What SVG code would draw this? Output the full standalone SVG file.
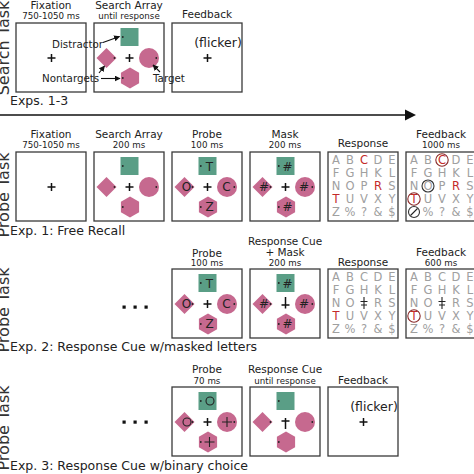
<svg xmlns="http://www.w3.org/2000/svg" width="474" height="474" viewBox="0 0 474 474">
<style>
text{font-family:"DejaVu Sans","Liberation Sans",sans-serif;fill:#222}
.title{font-size:10.5px;text-anchor:middle}
.sub{font-size:8.7px;text-anchor:middle}
.side{font-size:16px;text-anchor:middle;fill:#333}
.exp{font-size:12.5px}
.lbl{font-size:10.3px}
.box{fill:#fff;stroke:#3a3a3a;stroke-width:1.3}
.sq{fill:#5a9e86}
.pk{fill:#c6698f}
.dot{fill:#222}
.stim{font-size:12px;text-anchor:middle;fill:#222}
.grid{font-size:11.5px;text-anchor:middle;fill:#a0a0a0}
.red{fill:#c42a2a}
.x{stroke:#111;stroke-width:1.5;fill:none}
.thin{stroke:#222;stroke-width:1.1;fill:none}
.ring{fill:none;stroke:#333;stroke-width:1.1}
.rring{fill:none;stroke:#8a2a2a;stroke-width:1.1}
.arr{stroke:#111;stroke-width:1.1;fill:none;marker-end:url(#ah)}
.flk{font-size:12.5px;text-anchor:middle}
.ell{fill:#111}
</style>
<defs>
<marker id="ah" viewBox="0 0 10 10" refX="9" refY="5" markerWidth="6" markerHeight="6" orient="auto" markerUnits="userSpaceOnUse">
<path d="M0,0 L10,5 L0,10 z" fill="#111"/>
</marker>
<g id="shapes">
<rect class="sq" x="26.5" y="5" width="18" height="18"/>
<polygon class="pk" points="12.5,25 22.5,35 12.5,45 2.5,35"/>
<circle class="pk" cx="55" cy="35" r="10"/>
<polygon class="pk" points="36,44.5 45.1,49.75 45.1,60.25 36,65.5 26.9,60.25 26.9,49.75"/>
<circle class="dot" cx="28.8" cy="14" r="0.9"/>
<circle class="dot" cx="20.5" cy="35" r="0.9"/>
<circle class="dot" cx="62.3" cy="35" r="0.9"/>
<circle class="dot" cx="28.8" cy="55" r="0.9"/>
</g>
<path id="cross" class="x" d="M35.5,31 V39 M31.5,35 H39.5"/>
<path id="cueUp" class="x" d="M35.5,28 V39.5 M31.5,36 H39.5"/>
<path id="cueDown" class="x" d="M35.5,31 V42 M31.5,34 H39.5"/>
<rect id="frame" class="box" x="0" y="0" width="70" height="69"/>
<g id="gridRows">
<text class="grid" x="8 22 36 50 64" y="25">FGHKL</text>
<text class="grid" x="22 36 50 64" y="51">UVXY</text>
<text class="grid" x="22 36 50 64" y="64">%?&amp;$</text>
</g>
</defs>

<!-- side labels -->
<text class="side" transform="translate(8.5,48) rotate(-90)">Search Task</text>
<text class="side" transform="translate(8.5,195) rotate(-90)">Probe Task</text>
<text class="side" transform="translate(8.5,310) rotate(-90)">Probe Task</text>
<text class="side" transform="translate(8.5,428) rotate(-90)">Probe Task</text>

<!-- ROW 1: search task -->
<g id="s-fixation">
<text class="title" x="51" y="9">Fixation</text>
<text class="sub" x="51" y="19">750-1050 ms</text>
<g transform="translate(16,23)"><use href="#frame"/><use href="#cross"/></g>
</g>
<g id="s-search">
<text class="title" x="129" y="9">Search Array</text>
<text class="sub" x="129" y="19">until response</text>
<g transform="translate(94,23)"><use href="#frame"/><use href="#shapes"/><use href="#cross"/></g>
</g>
<g id="s-feedback">
<text class="title" x="207" y="18">Feedback</text>
<g transform="translate(172,23)"><use href="#frame"/><text class="flk" x="46" y="24">(flicker)</text><use href="#cross"/></g>
</g>
<g id="s-labels">
<text class="lbl" x="52" y="47.5">Distractor</text>
<text class="lbl" x="42" y="82">Nontargets</text>
<text class="lbl" x="153" y="82">Target</text>
</g>
<g id="connectors">
<line class="arr" x1="103" y1="42.5" x2="119.5" y2="36.5"/>
<line class="arr" x1="99" y1="73" x2="104.5" y2="66"/>
<line class="arr" x1="101" y1="78.5" x2="120" y2="78.5"/>
<line class="arr" x1="160" y1="72" x2="153" y2="65"/>
<line x1="0" y1="115" x2="406" y2="115" stroke="#111" stroke-width="1.5"/>
<polygon points="405,109.5 416,115 405,120.5" fill="#111"/>
</g>
<text class="exp" x="10" y="105">Exps. 1-3</text>

<!-- ROW 2: Exp 1 -->
<g id="e1-fixation">
<text class="title" x="51" y="138">Fixation</text>
<text class="sub" x="51" y="148">750-1050 ms</text>
<g transform="translate(16,152)"><use href="#frame"/><use href="#cross"/></g>
</g>
<g id="e1-search">
<text class="title" x="129" y="138">Search Array</text>
<text class="sub" x="129" y="148">200 ms</text>
<g transform="translate(94,152)"><use href="#frame"/><use href="#shapes"/><use href="#cross"/></g>
</g>
<g id="e1-probe">
<text class="title" x="207" y="138">Probe</text>
<text class="sub" x="207" y="148">100 ms</text>
<g transform="translate(172,152)"><use href="#frame"/><use href="#shapes"/><use href="#cross"/>
<text class="stim" x="37.5" y="18.5">T</text><text class="stim" x="14.5" y="39.3">O</text><text class="stim" x="54.5" y="39.3">C</text><text class="stim" x="37.5" y="59.3">Z</text></g>
</g>
<g id="e1-mask">
<text class="title" x="285" y="138">Mask</text>
<text class="sub" x="285" y="148">200 ms</text>
<g transform="translate(250,152)"><use href="#frame"/><use href="#shapes"/><use href="#cross"/>
<text class="stim" x="37.5" y="18.5">#</text><text class="stim" x="14" y="39.3">#</text><text class="stim" x="54" y="39.3">#</text><text class="stim" x="37.5" y="59.3">#</text></g>
</g>
<g id="e1-response">
<text class="title" x="363" y="147">Response</text>
<g transform="translate(328,152)"><use href="#frame"/>
<text class="grid" x="8 22" y="12">AB</text><text class="grid red" x="36" y="12">C</text><text class="grid" x="50 64" y="12">DE</text>
<text class="grid" x="8 22 36" y="38">NOP</text><text class="grid red" x="50" y="38">R</text><text class="grid" x="64" y="38">S</text>
<text class="grid red" x="8" y="51">T</text>
<text class="grid" x="8" y="64">Z</text>
<use href="#gridRows"/>
</g>
</g>
<g id="e1-feedback">
<text class="title" x="441" y="138">Feedback</text>
<text class="sub" x="441" y="148">1000 ms</text>
<g transform="translate(406,152)"><use href="#frame"/>
<text class="grid" x="8 22" y="12">AB</text><text class="grid red" x="36" y="12">C</text><text class="grid" x="50 64" y="12">DE</text>
<text class="grid" x="8 22 36" y="38">NOP</text><text class="grid red" x="50" y="38">R</text><text class="grid" x="64" y="38">S</text>
<text class="grid red" x="8" y="51">T</text>
<use href="#gridRows"/>
<circle class="rring" cx="36" cy="8" r="6.2"/>
<circle class="ring" cx="22" cy="34" r="6"/>
<circle class="rring" cx="8" cy="47" r="6.2"/>
<circle class="ring" cx="8" cy="60" r="5.5"/>
<line class="thin" x1="4.5" y1="63.5" x2="11.5" y2="56.5"/>
</g>
</g>
<text class="exp" x="10" y="235">Exp. 1: Free Recall</text>

<!-- ROW 3: Exp 2 -->
<g id="e2-ellipsis">
<rect class="ell" x="122.5" y="305.5" width="3.2" height="3.2"/>
<rect class="ell" x="133.5" y="305.5" width="3.2" height="3.2"/>
<rect class="ell" x="144.5" y="305.5" width="3.2" height="3.2"/>
</g>
<g id="e2-probe">
<text class="title" x="207" y="257">Probe</text>
<text class="sub" x="207" y="266">100 ms</text>
<g transform="translate(172,269)"><use href="#frame"/><use href="#shapes"/><use href="#cross"/>
<text class="stim" x="37.5" y="18.5">T</text><text class="stim" x="14.5" y="39.3">O</text><text class="stim" x="54.5" y="39.3">C</text><text class="stim" x="37.5" y="59.3">Z</text></g>
</g>
<g id="e2-cue">
<text class="title" x="285" y="245">Response Cue</text>
<text class="title" x="285" y="256">+ Mask</text>
<text class="sub" x="285" y="266">200 ms</text>
<g transform="translate(250,269)"><use href="#frame"/><use href="#shapes"/><use href="#cueUp"/>
<text class="stim" x="37.5" y="18.5">#</text><text class="stim" x="14" y="39.3">#</text><text class="stim" x="54" y="39.3">#</text><text class="stim" x="37.5" y="59.3">#</text></g>
</g>
<g id="e2-response">
<text class="title" x="363" y="266">Response</text>
<g transform="translate(328,269)"><use href="#frame"/>
<text class="grid" x="8 22 36 50 64" y="12">ABCDE</text>
<text class="grid" x="8 22" y="38">NO</text><text class="grid" x="50 64" y="38">RS</text>
<path class="thin" d="M36,28 V40 M32.5,32.5 H39.5 M33,36 H39"/>
<text class="grid red" x="8" y="51">T</text>
<text class="grid" x="8" y="64">Z</text>
<use href="#gridRows"/>
</g>
</g>
<g id="e2-feedback">
<text class="title" x="441" y="256">Feedback</text>
<text class="sub" x="441" y="266">600 ms</text>
<g transform="translate(406,269)"><use href="#frame"/>
<text class="grid" x="8 22 36 50 64" y="12">ABCDE</text>
<text class="grid" x="8 22" y="38">NO</text><text class="grid" x="50 64" y="38">RS</text>
<path class="thin" d="M36,28 V40 M32.5,32.5 H39.5 M33,36 H39"/>
<text class="grid red" x="8" y="51">T</text>
<text class="grid" x="8" y="64">Z</text>
<use href="#gridRows"/>
<circle class="rring" cx="8" cy="47" r="6.2"/>
</g>
</g>
<text class="exp" x="10" y="351">Exp. 2: Response Cue w/masked letters</text>

<!-- ROW 4: Exp 3 -->
<g id="e3-ellipsis">
<rect class="ell" x="122.5" y="420.5" width="3.2" height="3.2"/>
<rect class="ell" x="133.5" y="420.5" width="3.2" height="3.2"/>
<rect class="ell" x="144.5" y="420.5" width="3.2" height="3.2"/>
</g>
<g id="e3-probe">
<text class="title" x="207" y="373">Probe</text>
<text class="sub" x="207" y="384">70 ms</text>
<g transform="translate(172,387)"><use href="#frame"/><use href="#shapes"/><use href="#cross"/>
<circle class="thin" cx="38" cy="14" r="4"/>
<circle class="thin" cx="15" cy="35" r="4"/>
<path class="thin" d="M55,30 V40 M50,35 H60 M37.5,50 V60 M32.5,55 H42.5"/>
</g>
</g>
<g id="e3-cue">
<text class="title" x="285" y="373">Response Cue</text>
<text class="sub" x="285" y="384">until response</text>
<g transform="translate(250,387)"><use href="#frame"/><use href="#shapes"/><use href="#cueDown"/></g>
</g>
<g id="e3-feedback">
<text class="title" x="363" y="384">Feedback</text>
<g transform="translate(328,387)"><use href="#frame"/><text class="flk" x="46" y="24">(flicker)</text><use href="#cross"/></g>
</g>
<text class="exp" x="10" y="470">Exp. 3: Response Cue w/binary choice</text>
</svg>
